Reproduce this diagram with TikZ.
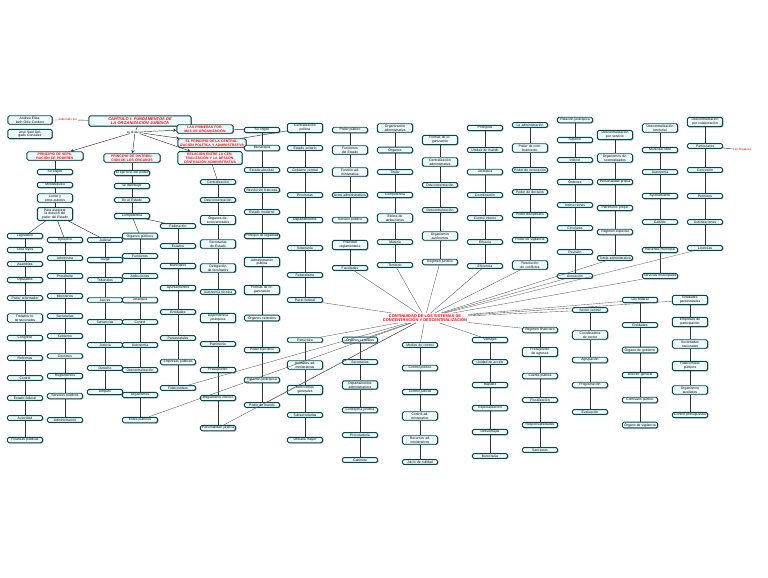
\documentclass[tikz,border=0pt]{standalone}
\usepackage{fontspec}
\setmainfont{Liberation Sans}
\usetikzlibrary{shadows}
\tikzset{
 box/.style={draw=teal!60!black,fill=cyan!6,rounded corners=1.5pt,line width=0.9pt,inner sep=1.1pt,
   font=\fontsize{3.4}{3.8}\selectfont,align=center,text width=33pt,drop shadow={shadow xshift=0.8pt,shadow yshift=-0.8pt,fill=black!75}},
 rbox/.style={box,text=red,font=\fontsize{3.4}{3.8}\selectfont\bfseries,text width=54pt},
 edge/.style={draw=black!80,line width=0.45pt},
 lab/.style={font=\fontsize{3}{3.4}\selectfont,fill=white,inner sep=0.3pt},
 hubl/.style={draw=black!65,line width=0.35pt}
}
\newcommand\mychain[2]{\foreach \x/\y/\t [count=\i] in {#2}{%
  \node[box] (#1\i) at (\x,\y) {\t};
  \ifnum\i>1 \pgfmathtruncatemacro\j{\i-1}\draw[edge] (#1\j) -- (#1\i);\fi}}
\begin{document}
\begin{tikzpicture}[x=1pt,y=-1pt]
\useasboundingbox[fill=white] (0,0) rectangle (768,578);
% title area
\node[box,text width=42pt] (au1) at (30,120) {Andrea Elizabeth Ortiz Cordero};
\node[box,text width=42pt] (au2) at (30,134) {José Saúl Delgado González};
\node[lab,text=red] (el) at (68,120) {elaborado por};
\node[rbox,text width=100pt,font=\fontsize{4}{4.4}\selectfont\bfseries\itshape] (tit) at (140,121) {CAPÍTULO I: FUNDAMENTOS DE LA ORGANIZACIÓN JURÍDICA};
\draw[edge] (au1)--(el)--(tit);
\node[lab] (sd) at (135,132) {se divide en};
\draw[edge] (tit)--(sd);
\node[rbox] (p1) at (55,156) {PRINCIPIO DE SEPARACIÓN DE PODERES};
\node[rbox] (p2) at (132,158) {PRINCIPIO DE DISTRIBUCIÓN DE LOS ÓRGANOS};
\node[rbox,text width=62pt] (p3) at (210,158) {RELACIÓN ENTRE LA CENTRALIZACIÓN Y LA DESCONCENTRACIÓN ADMINISTRATIVA};
\node[rbox] (p4) at (205,129) {LAS PRIMERAS FORMAS DE ORGANIZACIÓN};
\node[rbox,text width=66pt] (p5) at (212,143) {EL PRINCIPIO DE LA CENTRALIZACIÓN POLÍTICA Y ADMINISTRATIVA};
\foreach \p in {p1,p2,p3,p4,p5} \draw[edge,->,>=stealth] (sd)--(\p);
% chains
\mychain{a}{55/172/Su origen,55/185/Montesquieu,55/198/Locke y otros autores,55/214/Para asegurar la división del poder del Estado}
\draw[edge](p1)--(a1);
\mychain{l}{25/236/Legislativo,25/250/Crea leyes,25/264/Asamblea,25/280/Diputados,25/298/Poder reformador,25/318/Tratados internacionales,25/338/Congreso,25/358/Reformas,25/378/Control,25/398/Estado federal,25/418/Autoridad,25/440/Finanzas públicas}
\mychain{m}{65/240/Ejecutivo,65/258/Administra,65/276/Presidente,65/296/Ministerios,65/316/Secretarías,65/336/Gobierno,65/356/Decretos,65/376/Reglamentos,65/396/Servicios públicos,65/420/Administración}
\mychain{j}{105/240/Judicial,105/260/Juzga,105/280/Tribunales,105/300/Jueces,105/322/Sentencias,105/345/Justicia,105/368/Derecho,105/392/Amparo}
\foreach \c in {l1,m1,j1} \draw[edge](a4)--(\c);
\mychain{b}{132/173/El ejercicio del poder,132/186/se distribuye,132/200/En el Estado,132/216/Competencia,140/236/Órganos públicos,140/256/Funciones,140/276/Atribuciones,140/300/Jerarquía,140/322/Control,140/345/Autonomía,140/370/Descentralización,140/395/Organismos,140/420/Entes públicos}
\draw[edge](p2)--(b1);
\mychain{f}{178/226/Federación,178/246/Estados,178/266/Municipios,178/288/Ayuntamientos,178/312/Entidades,178/338/Paraestatales,178/362/Empresas públicas,178/388/Fideicomisos}
\draw[edge](b4)--(f1);
\mychain{c}{218/182/Centralización,218/200/Desconcentración,218/220/Órganos desconcentrados,218/244/Secretarías de Estado,218/268/Delegación de facultades,218/292/Autonomía técnica,218/318/Dependencia jerárquica,218/344/Patrimonio,218/370/Presupuesto,218/398/Reglamento interior,218/428/Personalidad jurídica}
\draw[edge](p3)--(c1);
\mychain{d}{262/130/Su origen,262/148/Monarquía,262/170/Estado absoluto,262/190/Revolución francesa,262/212/Estado moderno,262/236/Principio de legalidad,262/262/Administración pública,262/290/Formas de organización,262/318/Órganos centrales,262/350/Poder Ejecutivo,262/380/Relación jerárquica,262/405/Poder de mando}
\draw[edge](p4)--(d1);
\mychain{e}{305/128/Centralización política,305/148/Estado unitario,305/170/Gobierno central,305/195/Provincias,305/220/Departamentos,305/248/Soberanía,305/275/Federalismo,305/300/Pacto federal}
\draw[edge](p5)--(e1);
\mychain{g}{350/130/Poder público,350/150/Funciones del Estado,350/172/Función administrativa,350/195/Actos administrativos,350/220/Servicio público,350/245/Potestad reglamentaria,350/268/Facultades}
\mychain{h}{395/128/Organización administrativa,395/150/Órganos,395/172/Titular,395/195/Competencia,395/218/Esfera de atribuciones,395/242/Materia,395/265/Territorio}
\mychain{k}{440/140/Formas de organización,440/162/Centralización administrativa,440/185/Desconcentración,440/210/Descentralización,440/236/Organismos autónomos,440/262/Régimen jurídico}
\mychain{n}{485/128/Principios,485/150/Unidad de mando,485/172/Jerarquía,485/195/Coordinación,485/218/Control interno,485/242/Eficacia,485/266/Eficiencia}
\mychain{o}{530/125/La administración,530/148/Poder de nombramiento,530/170/Poder de revocación,530/192/Poder de decisión,530/215/Poder disciplinario,530/240/Poder de vigilancia,530/265/Resolución de conflictos}
\mychain{q}{575/120/Relación jerárquica,575/140/Superior,575/160/Inferior,575/182/Órdenes,575/205/Instrucciones,575/228/Circulares,575/252/Revisión,575/276/Avocación}
\mychain{r}{615/135/Descentralización por servicio,615/158/Organismos descentralizados,615/182/Personalidad propia,615/208/Patrimonio propio,615/232/Régimen especial,615/258/Tutela administrativa}
\mychain{s}{660/128/Descentralización territorial,660/150/Municipio libre,660/172/Autonomía,660/196/Ayuntamiento,660/222/Cabildo,660/250/Hacienda municipal,660/276/Servicios municipales}
\mychain{u}{705/122/Descentralización por colaboración,705/146/Particulares,705/170/Concesión,705/196/Permisos,705/222/Autorizaciones,705/248/Licencias}
\node[lab,text=red] (cen) at (742,150) {Ley Orgánica};
\draw[edge](u2)--(cen);
\mychain{v}{690/300/Entidades paraestatales,690/322/Empresas de participación,690/344/Sociedades nacionales,690/366/Fideicomisos públicos,690/390/Organismos auxiliares,690/415/Control presupuestal}
\mychain{w}{640/300/Ley federal,640/325/Entidades,640/350/Órgano de gobierno,640/375/Director general,640/400/Comisario público,640/425/Órgano de vigilancia}
\mychain{x}{590/310/Sector central,590/335/Coordinadora de sector,590/360/Agrupación,590/385/Programación,590/412/Evaluación}
\mychain{y}{540/330/Régimen financiero,540/352/Presupuesto de egresos,540/376/Cuenta pública,540/400/Fiscalización,540/425/Responsabilidades,540/450/Sanciones}
\mychain{z}{490/340/Ventajas,490/362/Unidad de acción,490/385/Rapidez,490/408/Especialización,490/432/Desventajas,490/456/Burocracia}
\mychain{t}{360/340/Órganos centrales,360/362/Secretarías,360/385/Departamentos administrativos,360/410/Consejería jurídica,360/435/Procuraduría,360/460/Gabinete}
\mychain{w2}{420/345/Medios de control,420/368/Control político,420/392/Control judicial,420/416/Control administrativo,420/440/Recursos administrativos,420/462/Juicio de nulidad}
\mychain{i}{305/340/Estructura,305/365/Unidades administrativas,305/390/Direcciones generales,305/415/Subsecretarías,305/440/Oficialía mayor}
% hub
\node[text=red,font=\fontsize{4}{4.6}\selectfont\bfseries,align=center,fill=white,inner sep=1pt] (hub) at (425,318) {CONTINUIDAD DE LOS SISTEMAS DE\\CONCENTRACIÓN Y DESCENTRALIZACIÓN};
\foreach \tg in {g7,h7,k6,n7,o7,q8,r6,s7,u6,e8,d12,c11,v1,w1,x1,y1,z1,t1,w21,i1,f8,b13}
  \draw[hubl] (hub)--(\tg);
\end{tikzpicture}
\end{document}
